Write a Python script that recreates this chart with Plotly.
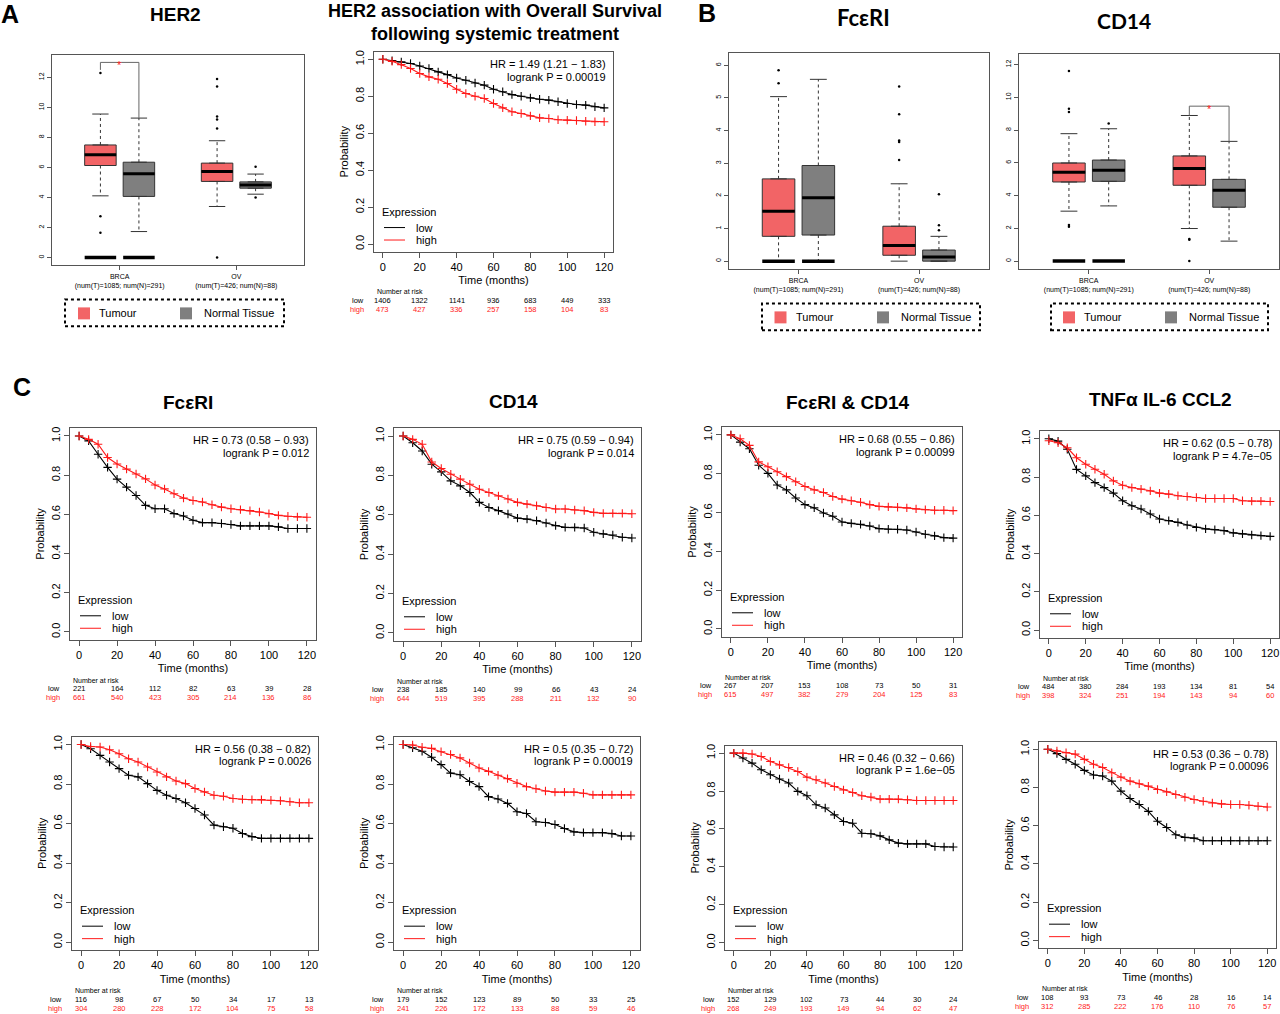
import plotly.graph_objects as go

W, H = 1280, 1014

# ---------------- DATA ----------------
box_categories = ["BRCA<br>(num(T)=1085; num(N)=291)", "OV<br>(num(T)=426; num(N)=88)"]
# [lower whisker, Q1, median, Q3, upper whisker] for BRCA, OV
her2_tumour = [[4.11, 6.13, 6.84, 7.50, 9.56], [3.40, 5.07, 5.73, 6.29, 7.78]]
her2_normal = [[1.73, 4.07, 5.58, 6.35, 9.29], [4.22, 4.62, 4.84, 5.04, 5.56]]
fceri_tumour = [[0.0, 0.76, 1.53, 2.52, 5.04], [0.0, 0.18, 0.48, 1.07, 2.37]]
fceri_normal = [[0.0, 0.80, 1.94, 2.93, 5.57], [0.0, 0.0, 0.13, 0.34, 0.76]]
cd14_tumour = [[3.05, 4.83, 5.42, 5.99, 7.78], [1.99, 4.63, 5.66, 6.42, 8.89]]
cd14_normal = [[3.37, 4.87, 5.54, 6.17, 8.08], [1.22, 3.29, 4.32, 4.99, 7.31]]
# a few isolated points visible beyond the whiskers
her2_tumour_extremes = [[12.3, 2.75, 1.65], [11.9, 11.4, 9.4, 9.2, 8.6, 0.0]]
her2_normal_extremes = [[], [6.05, 4.0]]
fceri_tumour_extremes = [[5.85, 5.45], [5.35, 4.5, 3.7, 3.65, 3.1]]
fceri_normal_extremes = [[], [2.05, 1.1, 0.95]]
cd14_tumour_extremes = [[11.6, 9.3, 9.1, 2.2, 2.1], [1.35, 1.3, 0.0]]
cd14_normal_extremes = [[8.4], []]

km_times = [0, 5, 10, 15, 20, 25, 30, 35, 40, 45, 50, 55, 60, 65, 70, 75, 80, 85, 90, 95, 100, 105, 110, 115, 120]
risk_times = [0, 20, 40, 60, 80, 100, 120]

her2_low = [1.0, 0.993, 0.986, 0.977, 0.964, 0.95, 0.932, 0.917, 0.899, 0.887, 0.872, 0.86, 0.838, 0.824, 0.809, 0.80, 0.791, 0.784, 0.779, 0.77, 0.761, 0.755, 0.752, 0.743, 0.737]
her2_high = [1.0, 0.989, 0.971, 0.95, 0.923, 0.905, 0.892, 0.869, 0.838, 0.815, 0.80, 0.788, 0.761, 0.737, 0.716, 0.707, 0.694, 0.683, 0.68, 0.673, 0.671, 0.669, 0.665, 0.662, 0.662]
her2_risk_low = [1406, 1322, 1141, 936, 683, 449, 333]
her2_risk_high = [473, 427, 336, 257, 158, 104, 83]

c11_high = [1.0, 0.983, 0.958, 0.89, 0.857, 0.831, 0.806, 0.781, 0.75, 0.73, 0.705, 0.683, 0.671, 0.663, 0.649, 0.637, 0.629, 0.624, 0.619, 0.612, 0.604, 0.595, 0.59, 0.587, 0.585]
c11_low = [1.0, 0.975, 0.907, 0.84, 0.78, 0.739, 0.696, 0.646, 0.629, 0.629, 0.604, 0.592, 0.57, 0.558, 0.558, 0.553, 0.548, 0.541, 0.541, 0.541, 0.541, 0.536, 0.528, 0.528, 0.528]
c11_risk_low = [221, 164, 112, 82, 63, 39, 28]
c11_risk_high = [661, 540, 423, 305, 214, 136, 86]

c12_high = [1.0, 0.983, 0.958, 0.868, 0.835, 0.806, 0.781, 0.755, 0.73, 0.713, 0.696, 0.68, 0.663, 0.654, 0.646, 0.637, 0.629, 0.629, 0.624, 0.621, 0.612, 0.607, 0.607, 0.607, 0.605]
c12_low = [1.0, 0.966, 0.924, 0.857, 0.818, 0.772, 0.747, 0.713, 0.663, 0.637, 0.621, 0.604, 0.583, 0.578, 0.57, 0.558, 0.545, 0.536, 0.536, 0.533, 0.511, 0.503, 0.497, 0.486, 0.482]
c12_risk_low = [238, 185, 140, 99, 66, 43, 24]
c12_risk_high = [644, 519, 395, 288, 211, 132, 90]

c13_high = [1.0, 0.98, 0.946, 0.861, 0.836, 0.81, 0.785, 0.759, 0.734, 0.717, 0.703, 0.683, 0.669, 0.661, 0.653, 0.641, 0.632, 0.629, 0.627, 0.624, 0.619, 0.615, 0.612, 0.612, 0.61]
c13_low = [1.0, 0.963, 0.929, 0.844, 0.802, 0.742, 0.717, 0.675, 0.641, 0.624, 0.598, 0.581, 0.551, 0.544, 0.539, 0.531, 0.517, 0.514, 0.514, 0.51, 0.5, 0.488, 0.48, 0.471, 0.468]
c13_risk_low = [267, 207, 153, 108, 73, 50, 31]
c13_risk_high = [615, 497, 382, 279, 204, 125, 83]

c14_high = [0.99, 0.979, 0.953, 0.901, 0.867, 0.841, 0.815, 0.78, 0.757, 0.745, 0.737, 0.728, 0.716, 0.711, 0.702, 0.698, 0.693, 0.688, 0.688, 0.688, 0.688, 0.676, 0.674, 0.674, 0.672]
c14_low = [1.0, 0.988, 0.945, 0.84, 0.806, 0.771, 0.745, 0.716, 0.676, 0.65, 0.633, 0.607, 0.581, 0.572, 0.563, 0.549, 0.537, 0.529, 0.525, 0.52, 0.508, 0.503, 0.497, 0.494, 0.49]
c14_risk_low = [484, 380, 284, 193, 134, 81, 54]
c14_risk_high = [398, 324, 251, 194, 143, 94, 60]

c21_high = [1.0, 0.99, 0.987, 0.973, 0.953, 0.928, 0.911, 0.886, 0.861, 0.836, 0.815, 0.802, 0.777, 0.76, 0.743, 0.738, 0.727, 0.723, 0.721, 0.721, 0.718, 0.715, 0.71, 0.705, 0.705]
c21_low = [1.0, 0.978, 0.945, 0.911, 0.878, 0.844, 0.836, 0.802, 0.768, 0.743, 0.727, 0.705, 0.676, 0.643, 0.592, 0.584, 0.576, 0.55, 0.534, 0.525, 0.525, 0.525, 0.525, 0.525, 0.525]
c21_risk_low = [116, 98, 67, 50, 34, 17, 13]
c21_risk_high = [304, 280, 228, 172, 104, 75, 58]

c22_high = [1.0, 0.997, 0.986, 0.98, 0.963, 0.949, 0.932, 0.906, 0.881, 0.864, 0.844, 0.827, 0.804, 0.787, 0.776, 0.765, 0.759, 0.759, 0.759, 0.753, 0.745, 0.745, 0.745, 0.745, 0.745]
c22_low = [1.0, 0.983, 0.966, 0.935, 0.898, 0.855, 0.847, 0.813, 0.787, 0.736, 0.724, 0.702, 0.66, 0.651, 0.609, 0.605, 0.595, 0.575, 0.558, 0.554, 0.554, 0.554, 0.549, 0.537, 0.537]
c22_risk_low = [179, 152, 123, 89, 50, 33, 25]
c22_risk_high = [241, 226, 172, 133, 88, 59, 46]

c23_high = [1.0, 1.0, 0.995, 0.982, 0.956, 0.938, 0.924, 0.903, 0.873, 0.859, 0.842, 0.824, 0.806, 0.792, 0.775, 0.768, 0.757, 0.757, 0.757, 0.754, 0.75, 0.75, 0.75, 0.75, 0.75]
c23_low = [1.0, 0.974, 0.947, 0.912, 0.886, 0.863, 0.842, 0.798, 0.775, 0.727, 0.71, 0.674, 0.639, 0.63, 0.577, 0.574, 0.563, 0.542, 0.525, 0.521, 0.521, 0.521, 0.507, 0.504, 0.504]
c23_risk_low = [152, 129, 102, 73, 44, 30, 24]
c23_risk_high = [268, 249, 193, 149, 94, 62, 47]

c24_high = [1.0, 0.991, 0.982, 0.974, 0.947, 0.921, 0.904, 0.877, 0.854, 0.833, 0.819, 0.807, 0.789, 0.777, 0.763, 0.749, 0.737, 0.728, 0.719, 0.714, 0.711, 0.711, 0.707, 0.702, 0.698]
c24_low = [1.0, 0.977, 0.947, 0.921, 0.889, 0.865, 0.86, 0.833, 0.781, 0.742, 0.711, 0.675, 0.623, 0.591, 0.553, 0.539, 0.535, 0.521, 0.521, 0.521, 0.521, 0.521, 0.521, 0.521, 0.521]
c24_risk_low = [108, 93, 73, 46, 28, 16, 14]
c24_risk_high = [312, 285, 222, 176, 110, 76, 57]

hr_texts = ["HR = 1.49 (1.21 − 1.83)", "HR = 0.73 (0.58 − 0.93)", "HR = 0.75 (0.59 − 0.94)",
            "HR = 0.68 (0.55 − 0.86)", "HR = 0.62 (0.5 − 0.78)", "HR = 0.56 (0.38 − 0.82)",
            "HR = 0.5 (0.35 − 0.72)", "HR = 0.46 (0.32 − 0.66)", "HR = 0.53 (0.36 − 0.78)"]
p_texts = ["logrank P = 0.00019", "logrank P = 0.012", "logrank P = 0.014", "logrank P = 0.00099",
           "logrank P = 4.7e−05", "logrank P = 0.0026", "logrank P = 0.00019", "logrank P = 1.6e−05",
           "logrank P = 0.00096"]

# ---------------- LAYOUT HELPERS ----------------
BASE = "Liberation Sans, Arial, sans-serif"
FRAME = "#555555"
RED_BOX = "#F26466"
GRAY_BOX = "#7F7F7F"
KM_RED = "#FF1A1A"

def PX(x):
    return x / W

def PY(y):
    return 1 - y / H

fig = go.Figure()
layout = dict(width=W, height=H, margin=dict(l=0, r=0, t=0, b=0, pad=0),
              paper_bgcolor="white", plot_bgcolor="white", showlegend=False,
              font=dict(family=BASE, color="black"))
annotations, shapes = [], []

def ann(text, x, y, size=11, color="black", xanchor="center", yanchor="middle",
        xref="paper", yref="paper", family=BASE, **kw):
    annotations.append(dict(text=text, x=x, y=y, xref=xref, yref=yref, showarrow=False,
                            xanchor=xanchor, yanchor=yanchor,
                            font=dict(size=size, color=color, family=family), **kw))

def names(i):
    s = "" if i == 1 else str(i)
    return "xaxis" + s, "yaxis" + s, "x" + s, "y" + s

# ---------------- BOX PANELS ----------------
box_panels = [
    dict(frame=(52, 304, 53, 264), yrange=[-0.53, 13.5], yticks=[0, 2, 4, 6, 8, 10, 12],
         tumour=her2_tumour, normal=her2_normal, t_ext=her2_tumour_extremes, n_ext=her2_normal_extremes,
         sig=(0, 12.5, 13.0, 9.3), legend=(65, 284, 298, 325), sq=(84, 186), txt=(97, 202), ly=312),
    dict(frame=(728.5, 989, 51, 268), yrange=[-0.255, 6.38], yticks=[0, 1, 2, 3, 4, 5, 6],
         tumour=fceri_tumour, normal=fceri_normal, t_ext=fceri_tumour_extremes, n_ext=fceri_normal_extremes,
         sig=None, legend=(762, 980, 302, 329), sq=(780.5, 883), txt=(794, 899), ly=316),
    dict(frame=(1019, 1279, 52, 268), yrange=[-0.51, 12.65], yticks=[0, 2, 4, 6, 8, 10, 12],
         tumour=cd14_tumour, normal=cd14_normal, t_ext=cd14_tumour_extremes, n_ext=cd14_normal_extremes,
         sig=(1, 8.89, 9.46, 7.31), legend=(1051, 1268, 302, 329), sq=(1069, 1171), txt=(1082, 1187), ly=316),
]
OFF, BW, CAP = 0.165, 0.27, 0.07

axis_idx = 0
for bp in box_panels:
    axis_idx += 1
    xa, ya, xr, yr = names(axis_idx)
    L, R, T, B = bp["frame"]
    layout[xa] = dict(domain=[PX(L), PX(R)], range=[0.42, 2.58], anchor=yr,
                      tickvals=[1, 2], ticktext=box_categories, tickfont=dict(size=7),
                      ticks="outside", ticklen=4, tickcolor=FRAME, showline=True, mirror=True,
                      linecolor=FRAME, linewidth=1, showgrid=False, zeroline=False)
    layout[ya] = dict(domain=[PY(B), PY(T)], range=bp["yrange"], anchor=xr,
                      tickvals=bp["yticks"], tickangle=-90, tickfont=dict(size=7),
                      ticks="outside", ticklen=4, tickcolor=FRAME, showline=True, mirror=True,
                      linecolor=FRAME, linewidth=1, showgrid=False, zeroline=False)
    for stats, ext, off, col in ((bp["tumour"], bp["t_ext"], -OFF, RED_BOX),
                                 (bp["normal"], bp["n_ext"], OFF, GRAY_BOX)):
        pos = [1 + off, 2 + off]
        wx, wy, cx, cy, mx, my = [], [], [], [], [], []
        for p, s in zip(pos, stats):
            lo, q1, med, q3, hi = s
            wx += [p, p, None, p, p, None]
            wy += [q3, hi, None, q1, lo, None]
            cx += [p - CAP, p + CAP, None, p - CAP, p + CAP, None]
            cy += [hi, hi, None, lo, lo, None]
            mx += [p - BW / 2, p + BW / 2, None]
            my += [med, med, None]
        fig.add_trace(go.Scatter(x=wx, y=wy, mode="lines", xaxis=xr, yaxis=yr,
                                 line=dict(color="#333333", width=1, dash="dot"), hoverinfo="skip"))
        fig.add_trace(go.Scatter(x=cx, y=cy, mode="lines", xaxis=xr, yaxis=yr,
                                 line=dict(color="#333333", width=1), hoverinfo="skip"))
        fig.add_trace(go.Box(x=pos, q1=[s[1] for s in stats], median=[s[2] for s in stats],
                             q3=[s[3] for s in stats], lowerfence=[s[1] for s in stats],
                             upperfence=[s[3] for s in stats], width=BW, fillcolor=col,
                             line=dict(color="#333333", width=1), boxpoints=False,
                             xaxis=xr, yaxis=yr, name="Tumour" if off < 0 else "Normal Tissue"))
        ex, ey = [], []
        for p, vals in zip(pos, ext):
            ex += [p] * len(vals)
            ey += vals
        fig.add_trace(go.Scatter(x=ex, y=ey, mode="markers", xaxis=xr, yaxis=yr,
                                 marker=dict(color="black", size=2.5), hoverinfo="skip"))
        fig.add_trace(go.Scatter(x=mx, y=my, mode="lines", xaxis=xr, yaxis=yr,
                                 line=dict(color="black", width=3), hoverinfo="skip"))
    # zero-expression bars for BRCA
    fig.add_trace(go.Scatter(x=[1 - OFF - BW / 2, 1 - OFF + BW / 2, None, 1 + OFF - BW / 2, 1 + OFF + BW / 2],
                             y=[0, 0, None, 0, 0], mode="lines", xaxis=xr, yaxis=yr,
                             line=dict(color="black", width=3.5), hoverinfo="skip"))
    if bp["sig"] is not None:
        c, y1, ytop, y2 = bp["sig"]
        p1, p2 = c + 1 - OFF, c + 1 + OFF
        fig.add_trace(go.Scatter(x=[p1, p1, p2, p2], y=[y1, ytop, ytop, y2], mode="lines",
                                 xaxis=xr, yaxis=yr, line=dict(color="#666666", width=1), hoverinfo="skip"))
        ann("*", c + 1, ytop, size=11, color="#FF2020", xref=xr, yref=yr, yshift=-3)
    # legend with dotted frame
    lx0, lx1, ly0, ly1 = bp["legend"]
    shapes.append(dict(type="rect", xref="paper", yref="paper", x0=PX(lx0), x1=PX(lx1), y0=PY(ly1), y1=PY(ly0),
                       line=dict(color="black", width=2, dash="dot")))
    ly = bp["ly"]
    for sqx, col in zip(bp["sq"], (RED_BOX, GRAY_BOX)):
        shapes.append(dict(type="rect", xref="paper", yref="paper", x0=PX(sqx - 6), x1=PX(sqx + 6),
                           y0=PY(ly + 6), y1=PY(ly - 6), fillcolor=col, line=dict(width=0)))
    ann("Tumour", PX(bp["txt"][0]), PY(ly), size=11, xanchor="left")
    ann("Normal Tissue", PX(bp["txt"][1]), PY(ly), size=11, xanchor="left")

# ---------------- KM PANELS ----------------
km_panels = [
    dict(frame=(374, 613, 50, 250), low=her2_low, high=her2_high, rl=her2_risk_low, rh=her2_risk_high),
    dict(frame=(70, 316, 427, 639), low=c11_low, high=c11_high, rl=c11_risk_low, rh=c11_risk_high),
    dict(frame=(394, 641, 427, 640), low=c12_low, high=c12_high, rl=c12_risk_low, rh=c12_risk_high),
    dict(frame=(722, 962, 426, 636), low=c13_low, high=c13_high, rl=c13_risk_low, rh=c13_risk_high),
    dict(frame=(1040, 1279, 430, 637), low=c14_low, high=c14_high, rl=c14_risk_low, rh=c14_risk_high),
    dict(frame=(72, 318, 736, 950), low=c21_low, high=c21_high, rl=c21_risk_low, rh=c21_risk_high),
    dict(frame=(394, 640, 736, 950), low=c22_low, high=c22_high, rl=c22_risk_low, rh=c22_risk_high),
    dict(frame=(725, 962, 745, 950), low=c23_low, high=c23_high, rl=c23_risk_low, rh=c23_risk_high),
    dict(frame=(1039, 1276, 741, 948), low=c24_low, high=c24_high, rl=c24_risk_low, rh=c24_risk_high),
]

for k, kp in enumerate(km_panels):
    axis_idx += 1
    xa, ya, xr, yr = names(axis_idx)
    L, R, T, B = kp["frame"]
    layout[xa] = dict(domain=[PX(L), PX(R)], range=[-4.8, 124.8], anchor=yr,
                      tickvals=[0, 20, 40, 60, 80, 100, 120], tickfont=dict(size=11),
                      ticks="outside", ticklen=5, tickcolor=FRAME, showline=True, mirror=True,
                      linecolor=FRAME, linewidth=1, showgrid=False, zeroline=False,
                      title=dict(text="Time (months)", font=dict(size=11), standoff=4))
    layout[ya] = dict(domain=[PY(B), PY(T)], range=[-0.04, 1.04], anchor=xr,
                      tickvals=[0, 0.2, 0.4, 0.6, 0.8, 1.0],
                      ticktext=["0.0", "0.2", "0.4", "0.6", "0.8", "1.0"], tickangle=-90,
                      tickfont=dict(size=11), ticks="outside", ticklen=5, tickcolor=FRAME,
                      showline=True, mirror=True, linecolor=FRAME, linewidth=1,
                      showgrid=False, zeroline=False,
                      title=dict(text="Probability", font=dict(size=11), standoff=2))
    for vals, col, nm in ((kp["low"], "black", "low"), (kp["high"], KM_RED, "high")):
        fig.add_trace(go.Scatter(x=km_times, y=vals, mode="lines+markers", name=nm,
                                 xaxis=xr, yaxis=yr, line=dict(color=col, width=1.1),
                                 marker=dict(symbol="cross-thin", size=6, color=col,
                                             line=dict(color=col, width=1.1))))
    # HR / logrank
    ann(hr_texts[k], PX(R - 5), PY(T + 12), size=11, xanchor="right")
    ann(p_texts[k], PX(R - 5), PY(T + 25), size=11, xanchor="right")
    # inner legend
    ann("Expression", PX(L + 6), PY(B - 40), size=11, xanchor="left")
    for dy, col, nm in ((24, "black", "low"), (11.5, KM_RED, "high")):
        shapes.append(dict(type="line", xref="paper", yref="paper", x0=PX(L + 10), x1=PX(L + 31),
                           y0=PY(B - dy), y1=PY(B - dy), line=dict(color=col, width=1)))
        ann(nm, PX(L + 40), PY(B - dy), size=11, xanchor="left")
    # number at risk table
    ann("Number at risk", PX(L + 1), PY(B + 40.5), size=7, xanchor="left")
    ann("low", PX(L - 8), PY(B + 49), size=7.5, xanchor="right")
    ann("high", PX(L - 8), PY(B + 58), size=7.5, xanchor="right", color=KM_RED)
    for t, vl, vh in zip(risk_times, kp["rl"], kp["rh"]):
        ann(str(vl), t, PY(B + 49), size=7.5, xref=xr)
        ann(str(vh), t, PY(B + 58), size=7.5, xref=xr, color=KM_RED)

# ---------------- TITLES ----------------
CAL = "Lato, Open Sans, sans-serif"
ann("<b>A</b>", PX(10), PY(12), size=25)
ann("<b>HER2</b>", PX(175), PY(13), size=19)
ann("<b>HER2 association with Overall Survival</b>", PX(495), PY(9), size=18)
ann("<b>following systemic treatment</b>", PX(495), PY(32), size=18)
ann("<b>B</b>", PX(707), PY(11), size=25)
ann("<b>FcεRI</b>", PX(863), PY(16), size=22, family=CAL)
ann("<b>CD14</b>", PX(1124), PY(19), size=21, family=CAL)
ann("<b>C</b>", PX(22), PY(386), size=25)
ann("<b>FcεRI</b>", PX(188), PY(401), size=19)
ann("<b>CD14</b>", PX(513), PY(400), size=19)
ann("<b>FcεRI &amp; CD14</b>", PX(847), PY(401), size=19)
ann("<b>TNFα IL-6 CCL2</b>", PX(1160), PY(398), size=19)

layout["annotations"] = annotations
layout["shapes"] = shapes
fig.update_layout(**layout)

fig.write_html("out.html", config={"displayModeBar": False},
               post_script="document.body.style.margin='0';")
